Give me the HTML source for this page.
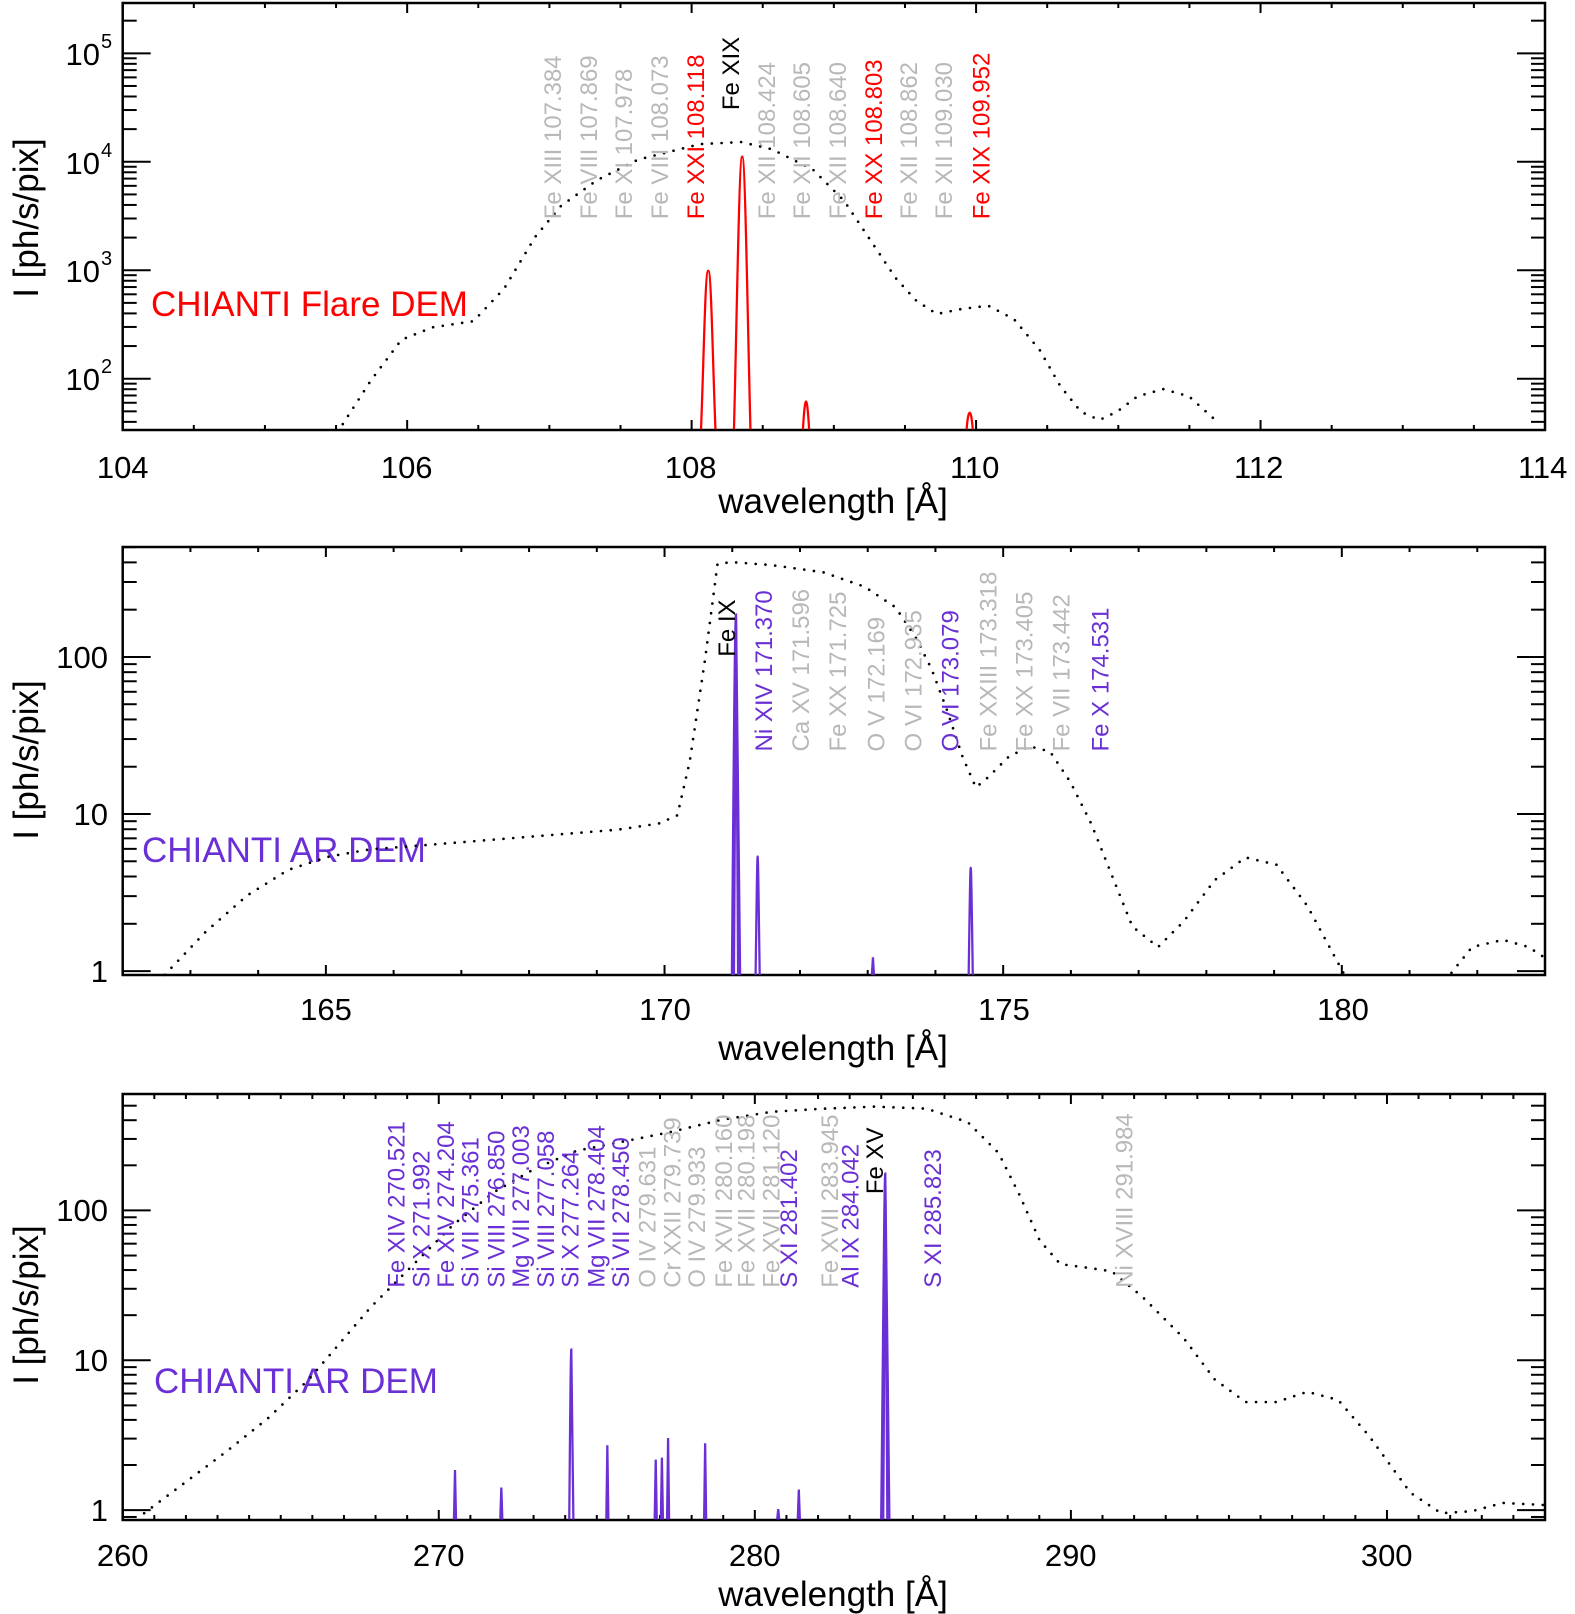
<!DOCTYPE html>
<html><head><meta charset="utf-8"><style>
html,body{margin:0;padding:0;background:#fff}
svg{display:block}
text{font-family:"Liberation Sans",Arial,sans-serif}
.g{fill:#b8b8b8}.r{fill:#ff0000}.p{fill:#6a30d5}.k{fill:#000}
.lab{font-size:23.3px}
.dem{fill:none;stroke:#000;stroke-width:2.6;stroke-dasharray:0 9.5;stroke-linecap:round;stroke-linejoin:round}
</style></head><body>
<svg id="s" xmlns="http://www.w3.org/2000/svg" width="1575" height="1614" viewBox="0 0 1575 1614">
<rect width="1575" height="1614" fill="#fff"/>
<g id="ticks" stroke="#000" stroke-width="2" fill="none"></g>

<g fill="none" stroke="#000" stroke-width="2.5">
<rect x="122.7" y="3" width="1422.3" height="427"/>
<rect x="122.7" y="547" width="1422.3" height="428"/>
<rect x="122.7" y="1094" width="1422.3" height="426"/>
</g>

<!-- panel 1 -->
<g font-size="31" class="k" text-anchor="end">
<text x="100" y="65">10</text><text x="100" y="174">10</text><text x="100" y="282">10</text><text x="100" y="390">10</text>
</g>
<g font-size="20" class="k">
<text x="101" y="48">5</text><text x="101" y="157">4</text><text x="101" y="265">3</text><text x="101" y="373">2</text>
</g>
<g font-size="31" class="k" text-anchor="middle">
<text x="122.7" y="478">104</text><text x="406.7" y="478">106</text><text x="690.7" y="478">108</text><text x="974.7" y="478">110</text><text x="1258.7" y="478">112</text><text x="1542.7" y="478">114</text>
</g>
<g font-size="35" class="k" text-anchor="middle">
<text x="833" y="513">wavelength [Å]</text>
<text transform="translate(38,218) rotate(-90)">I [ph/s/pix]</text>
</g>
<!-- panel 2 -->
<g font-size="31" class="k" text-anchor="end">
<text x="108" y="668">100</text><text x="108" y="825">10</text><text x="108" y="982">1</text>
</g>
<g font-size="31" class="k" text-anchor="middle">
<text x="326" y="1020">165</text><text x="665" y="1020">170</text><text x="1004" y="1020">175</text><text x="1343" y="1020">180</text>
</g>
<g font-size="35" class="k" text-anchor="middle">
<text x="833" y="1060">wavelength [Å]</text>
<text transform="translate(38,760) rotate(-90)">I [ph/s/pix]</text>
</g>
<!-- panel 3 -->
<g font-size="31" class="k" text-anchor="end">
<text x="108" y="1221">100</text><text x="108" y="1371">10</text><text x="108" y="1521">1</text>
</g>
<g font-size="31" class="k" text-anchor="middle">
<text x="122.7" y="1566">260</text><text x="438.7" y="1566">270</text><text x="754.7" y="1566">280</text><text x="1070.7" y="1566">290</text><text x="1386.7" y="1566">300</text>
</g>
<g font-size="35" class="k" text-anchor="middle">
<text x="833" y="1606">wavelength [Å]</text>
<text transform="translate(38,1305) rotate(-90)">I [ph/s/pix]</text>
</g>

<text x="151" y="316" font-size="35" class="r">CHIANTI Flare DEM</text>
<text x="142" y="862" font-size="35" class="p">CHIANTI AR DEM</text>
<text x="154" y="1393" font-size="35" class="p">CHIANTI AR DEM</text>

<g transform="scale(1.0294)">
<polyline class="dem" points="333,412 360,370 390,330 420,318 460,312 490,280 520,230 545,200 580,175 620,155 680,140 720,138 750,145 790,165 820,195 850,240 870,270 890,292 910,305 935,300 960,297 985,310 1010,340 1030,375 1050,400 1068,408 1085,400 1105,385 1130,378 1155,385 1185,412"/>
<polyline class="dem" points="160,947 200,905 240,870 280,845 320,832 360,825 400,822 450,818 500,814 550,810 600,806 640,800 658,792 670,740 685,640 697,548 710,546 750,549 800,556 840,570 870,590 890,620 905,650 920,690 935,735 948,765 960,755 980,735 1000,725 1020,730 1040,760 1060,800 1080,850 1100,900 1125,920 1150,895 1180,855 1210,833 1240,840 1270,880 1305,945"/>
<polyline class="dem" points="1410,945 1430,920 1460,913 1485,920 1500,930"/>
<polyline class="dem" points="140,1470 180,1440 220,1410 260,1378 300,1340 330,1305 360,1270 400,1230 440,1190 480,1158 520,1135 560,1118 600,1110 650,1100 700,1088 750,1080 800,1077 850,1075 900,1077 940,1090 970,1120 990,1160 1010,1205 1030,1228 1060,1232 1080,1235 1110,1260 1150,1300 1180,1340 1210,1362 1240,1362 1270,1352 1300,1360 1330,1395 1370,1450 1400,1470 1430,1468 1460,1460 1500,1462"/>

<g fill="none" stroke="#ff0000" stroke-width="2.2">
<path d="M681,417 C684,340 685,263 688,263 C691,263 692,340 695,417"/>
<path d="M713,417 C716,300 718,152 721,152 C724,152 726,300 729,417"/>
<path d="M780,417 C781,400 782,390 783,390 C784,390 785,400 786,417"/>
<path d="M939,417 C940,405 941,401 942,401 C943,401 944,405 945,417"/>
</g>
<g fill="none" stroke="#6a30d5" stroke-width="2.2">
<path d="M711,947 C713,700 714,597 715,597 C716,597 717,700 719,947"/>
<path d="M713,947 L715,600 L717,947"/>
<path d="M734,947 C735,880 735.5,832 736,832 C736.5,832 737,880 738,947"/>
<path d="M847,947 L848,930 L849,947"/>
<path d="M941,947 C942,880 942.5,843 943,843 C943.5,843 944,880 945,947"/>
</g>
<g fill="none" stroke="#6a30d5" stroke-width="2.2">
<path d="M441,1476 L442,1428 L443,1476"/>
<path d="M486,1476 L487,1445 L488,1476"/>
<path d="M553,1476 C554,1360 554.5,1311 555,1311 C555.5,1311 556,1360 557,1476"/>
<path d="M589,1476 L590,1404 L591,1476"/>
<path d="M636,1476 L637,1418 L638,1476"/>
<path d="M642,1476 L643,1416 L644,1476"/>
<path d="M648,1476 L649,1397 L650,1476"/>
<path d="M684,1476 L685,1402 L686,1476"/>
<path d="M755,1476 L756,1466 L757,1476"/>
<path d="M775,1476 L776,1447 L777,1476"/>
<path d="M856,1476 C858,1300 859,1140 860,1140 C861,1140 862,1300 864,1476"/>
<path d="M858,1476 L860,1145 L862,1476"/>
</g>

<g class="lab">
<text class="g" transform="translate(545,213) rotate(-90)">Fe XIII 107.384</text>
<text class="g" transform="translate(580,213) rotate(-90)">Fe VIII 107.869</text>
<text class="g" transform="translate(614,213) rotate(-90)">Fe XI 107.978</text>
<text class="g" transform="translate(649,213) rotate(-90)">Fe VIII 108.073</text>
<text class="r" transform="translate(684,213) rotate(-90)">Fe XXI 108.118</text>
<text class="k" transform="translate(718,107) rotate(-90)">Fe XIX</text>
<text class="g" transform="translate(753,213) rotate(-90)">Fe XII 108.424</text>
<text class="g" transform="translate(787,213) rotate(-90)">Fe XII 108.605</text>
<text class="g" transform="translate(822,213) rotate(-90)">Fe XII 108.640</text>
<text class="r" transform="translate(857,213) rotate(-90)">Fe XX 108.803</text>
<text class="g" transform="translate(891,213) rotate(-90)">Fe XII 108.862</text>
<text class="g" transform="translate(925,213) rotate(-90)">Fe XII 109.030</text>
<text class="r" transform="translate(961,213) rotate(-90)">Fe XIX 109.952</text>
</g>
<g class="lab">
<text class="k" transform="translate(714,638) rotate(-90)">Fe IX</text>
<text class="p" transform="translate(750,730) rotate(-90)">Ni XIV 171.370</text>
<text class="g" transform="translate(786,730) rotate(-90)">Ca XV 171.596</text>
<text class="g" transform="translate(822,730) rotate(-90)">Fe XX 171.725</text>
<text class="g" transform="translate(859,730) rotate(-90)">O V 172.169</text>
<text class="g" transform="translate(895,730) rotate(-90)">O VI 172.935</text>
<text class="p" transform="translate(931,730) rotate(-90)">O VI 173.079</text>
<text class="g" transform="translate(968,730) rotate(-90)">Fe XXIII 173.318</text>
<text class="g" transform="translate(1003,730) rotate(-90)">Fe XX 173.405</text>
<text class="g" transform="translate(1039,730) rotate(-90)">Fe VII 173.442</text>
<text class="p" transform="translate(1077,730) rotate(-90)">Fe X 174.531</text>
</g>
<g class="lab">
<text class="p" transform="translate(393,1251) rotate(-90)">Fe XIV 270.521</text>
<text class="p" transform="translate(417,1251) rotate(-90)">Si X 271.992</text>
<text class="p" transform="translate(441,1251) rotate(-90)">Fe XIV 274.204</text>
<text class="p" transform="translate(465,1251) rotate(-90)">Si VII 275.361</text>
<text class="p" transform="translate(490,1251) rotate(-90)">Si VIII 276.850</text>
<text class="p" transform="translate(514,1251) rotate(-90)">Mg VII 277.003</text>
<text class="p" transform="translate(538,1251) rotate(-90)">Si VIII 277.058</text>
<text class="p" transform="translate(562,1251) rotate(-90)">Si X 277.264</text>
<text class="p" transform="translate(587,1251) rotate(-90)">Mg VII 278.404</text>
<text class="p" transform="translate(611,1251) rotate(-90)">Si VII 278.450</text>
<text class="g" transform="translate(637,1251) rotate(-90)">O IV 279.631</text>
<text class="g" transform="translate(661,1251) rotate(-90)">Cr XXII 279.739</text>
<text class="g" transform="translate(685,1251) rotate(-90)">O IV 279.933</text>
<text class="g" transform="translate(711,1251) rotate(-90)">Fe XVII 280.160</text>
<text class="g" transform="translate(733,1251) rotate(-90)">Fe XVII 280.198</text>
<text class="g" transform="translate(757,1251) rotate(-90)">Fe XVII 281.120</text>
<text class="p" transform="translate(774,1251) rotate(-90)">S XI 281.402</text>
<text class="g" transform="translate(814,1251) rotate(-90)">Fe XVII 283.945</text>
<text class="p" transform="translate(834,1251) rotate(-90)">Al IX 284.042</text>
<text class="k" transform="translate(858,1160) rotate(-90)">Fe XV</text>
<text class="p" transform="translate(914,1251) rotate(-90)">S XI 285.823</text>
<text class="g" transform="translate(1100,1251) rotate(-90)">Ni XVIII 291.984</text>
</g>
</g>
</svg>
<script>
(function(){
var g=document.getElementById('ticks');var s='';
function L(a,b,c,d){s+='<line x1="'+a+'" y1="'+b+'" x2="'+c+'" y2="'+d+'"/>';}
var X0=122.7,X1=1545;
function panel(top,bot,xmin,xmax,minor,major,logBot,logTop){
  var k=(X1-X0)/(xmax-xmin);
  for(var v=xmin;v<=xmax+1e-6;v+=minor){
    var x=X0+(v-xmin)*k;var isM=Math.abs(v/major-Math.round(v/major))<1e-6;var l=isM?10:5;
    L(x,bot,x,bot-l);L(x,top,x,top+l);
  }
  var ppd=(bot-top)/(logTop-logBot);
  for(var d=Math.floor(logBot);d<=Math.ceil(logTop);d++){
    for(var m=1;m<10;m++){
      var lv=d+Math.log10(m);if(lv<logBot||lv>logTop)continue;
      var y=bot-(lv-logBot)*ppd;var l=m==1?28:14;
      L(X0,y,X0+l,y);L(X1,y,X1-l,y);
    }
  }
}
panel(3,430,104,114,0.5,2,1.527,5.464);
panel(547,975,162,183,1,5,-0.025,2.70);
panel(1094,1520,260,305,1,10,-0.066,2.777);
g.innerHTML=s;
})();
</script>
</body></html>
